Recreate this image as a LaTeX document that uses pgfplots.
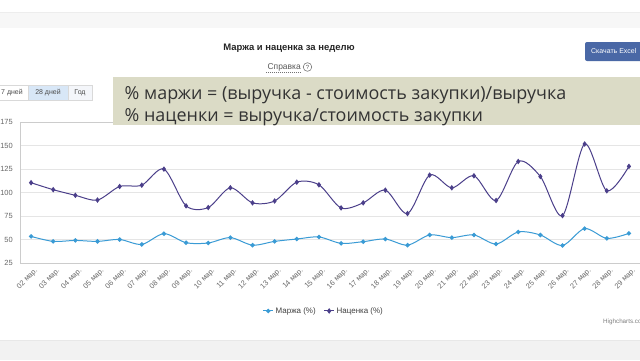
\documentclass[border=0pt]{standalone}
\usepackage{pgfplots}
\pgfplotsset{compat=1.18}
\usepackage{pgfplotstable}
\usepackage{fontspec}
\setmainfont{Liberation Sans}
\newfontfamily\osans{Open Sans}
\definecolor{mblue}{RGB}{58,155,213}
\definecolor{npurp}{RGB}{75,63,138}
\definecolor{boxbg}{RGB}{219,219,198}
\definecolor{btnblue}{RGB}{74,104,166}
\definecolor{lbl}{RGB}{102,102,102}
\pgfplotstableread{
x m n
0 53.3 110.4
1 48 103
2 49 97
3 48 92
4 50 106.4
5 44.8 107.8
6 56.2 124.9
7 46.6 85.8
8 46.3 84
9 52 105
10 44 89
11 48 91
12 50.5 111
13 52.7 108.2
14 45.9 83.6
15 47.7 89
16 50.5 102.5
17 44 77.6
18 54.8 118.5
19 52 105
20 54.8 117.8
21 45.2 91.5
22 58 133
23 54.8 117
24 43.7 75.4
25 61.6 151.6
26 51.2 101.8
27 56.5 127.8
}\data
\begin{document}
\begin{tikzpicture}[x=1bp,y=1bp]
\useasboundingbox (0,0) rectangle (640,360);
\clip (0,0) rectangle (640,360);
\fill[white] (0,0) rectangle (640,360);
% top faint band
\fill[black!3] (0,332) rectangle (640,348);
\draw[black!7] (0,348) -- (640,348);
% bottom band
\fill[black!5] (0,0) rectangle (640,20);
\draw[black!9] (0,20) -- (640,20);
\begin{axis}[
  at={(20bp,97bp)}, anchor=south west,
  scale only axis, width=620bp, height=141bp,
  xmin=-0.5, xmax=27.5, ymin=25, ymax=175,
  ytick={25,50,75,100,125,150,175},
  xtick={0,...,27},
  xticklabels={02 мар.,03 мар.,04 мар.,05 мар.,06 мар.,07 мар.,08 мар.,09 мар.,10 мар.,11 мар.,12 мар.,13 мар.,14 мар.,15 мар.,16 мар.,17 мар.,18 мар.,19 мар.,20 мар.,21 мар.,22 мар.,23 мар.,24 мар.,25 мар.,26 мар.,27 мар.,28 мар.,29 мар.},
  major tick length=0pt,
  ymajorgrids, grid style={black!10, line width=0.6pt},
  axis line style={black!20, line width=0.6pt},
  /pgf/number format/assume math mode=true,
  yticklabel style={font=\fontsize{7.5}{8}\selectfont, text=lbl, inner sep=0pt, xshift=-7bp},
  xticklabel style={font=\fontsize{7.4}{8}\selectfont, text=lbl, inner sep=0pt, xshift=3bp, yshift=-4bp, rotate=45, anchor=north east},
  legend style={at={(0.49,-0.34)}, anchor=center, draw=none, fill=none, font=\fontsize{8}{9}\selectfont\color{black!75}, legend columns=2, /tikz/every even column/.append style={column sep=6bp}},
  legend image code/.code={\draw[#1,mark repeat=2,mark phase=2] plot coordinates {(0bp,0bp) (5bp,0bp) (10bp,0bp)};},
]
\addplot[mblue, line width=1pt, smooth, tension=0.5, mark=*, mark size=1.7pt, mark options={solid,fill=mblue,draw=mblue}] table[x=x,y=m] {\data};
\addlegendentry{Маржа (\%)}
\addplot[npurp, line width=1pt, smooth, tension=0.5, mark=diamond*, mark size=2pt, mark options={solid,fill=npurp,draw=npurp}] table[x=x,y=n] {\data};
\addlegendentry{Наценка (\%)}
\end{axis}
% overlay box
\fill[boxbg] (113,235) rectangle (640,283);
\node[anchor=base west, inner sep=0pt, text=black!80, font=\osans\fontsize{18}{20}\selectfont] at (124.5,261) {\% маржи = (выручка - стоимость закупки)/выручка};
\node[anchor=base west, inner sep=0pt, text=black!80, font=\osans\fontsize{18}{20}\selectfont] at (124.5,238.5) {\% наценки = выручка/стоимость закупки};
% title
\node[font=\bfseries\fontsize{9.5}{11}\selectfont, text=black!85] at (289,312) {Маржа и наценка за неделю};
\node[anchor=east, inner sep=0pt, font=\fontsize{8.5}{10}\selectfont, text=black!65] (spr) at (301,293) {Справка};
\draw[black!55, dash pattern=on 1pt off 1pt, line width=0.4pt] (266,287.5) -- (301,287.5);
\draw[black!60, line width=0.5pt] (307.5,293) circle (4.3);
\node[inner sep=0pt, font=\fontsize{6}{7}\selectfont, text=black!65] at (307.5,293) {?};
% excel button
\fill[btnblue, rounded corners=2pt] (585,299) rectangle (650,318);
\node[anchor=west, inner sep=0pt, font=\fontsize{7}{8}\selectfont, text=white] at (591,308.5) {Скачать Excel};
% period buttons
\draw[black!15, fill=white] (-2,260) rectangle (28,275);
\draw[black!15, fill={rgb,255:red,216;green,231;blue,247}] (28,260) rectangle (68,275);
\draw[black!15, fill={rgb,255:red,244;green,246;blue,250}] (68,260) rectangle (92,275);
\node[font=\fontsize{7}{8}\selectfont, text=black!70] at (12,267.5) {7 дней};
\node[font=\fontsize{7}{8}\selectfont, text=black!70] at (48,267.5) {28 дней};
\node[font=\fontsize{7}{8}\selectfont, text=black!70] at (80,267.5) {Год};
% credit
\node[anchor=west, inner sep=0pt, font=\fontsize{6.3}{7}\selectfont, text=black!50] at (603,38) {Highcharts.com};
\end{tikzpicture}
\end{document}
